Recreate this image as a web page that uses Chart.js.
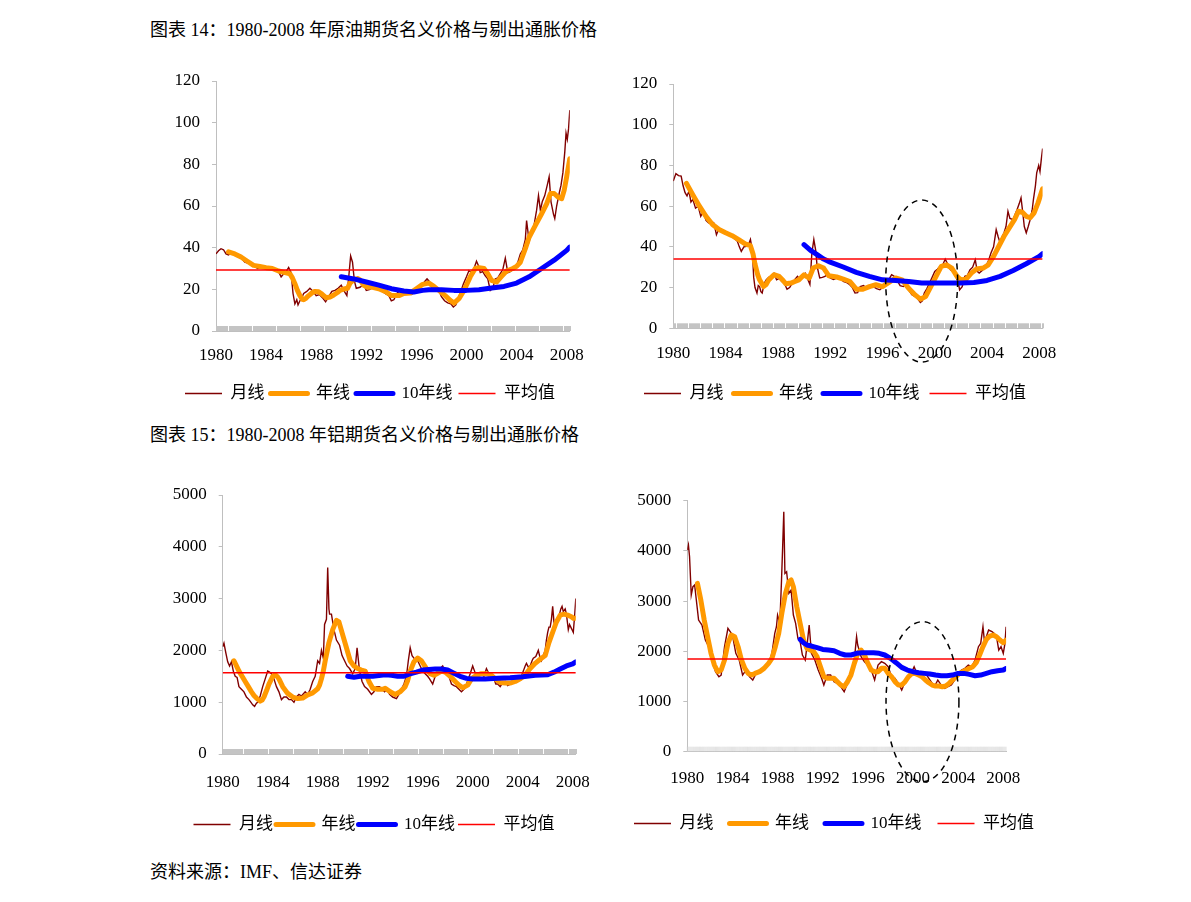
<!DOCTYPE html>
<html><head><meta charset="utf-8">
<script src="https://cdn.jsdelivr.net/npm/chart.js@4.4.1/dist/chart.umd.min.js"></script>
<style>
body{margin:0;background:#fff;width:1191px;height:902px;position:relative;overflow:hidden;font-family:"Liberation Serif","Noto Sans CJK SC",serif;}
.t{position:absolute;left:150px;font-size:18px;line-height:22px;color:#000;white-space:nowrap;}
canvas{position:absolute;}
</style></head><body>
<div class="t" style="top:19px">图表 14：1980-2008 年原油期货名义价格与剔出通胀价格</div>
<div class="t" style="top:424px">图表 15：1980-2008 年铝期货名义价格与剔出通胀价格</div>
<div class="t" style="top:861px">资料来源：IMF、信达证券</div>
<canvas id="c1"></canvas>
<canvas id="c2"></canvas>
<canvas id="c3"></canvas>
<canvas id="c4"></canvas>
<script>
// ---------- data ----------
const yearLabels = [1980,1984,1988,1992,1996,2000,2004,2008];
const seriesNames = ['月线','年线','10年线','平均值'];
const xStart = 1980, xEnd = 2008.25;

// Chart 1: crude oil nominal
const oilNomMonthly = [[1980.0,37],[1980.2,38.5],[1980.4,39.5],[1980.6,39],[1980.8,37],[1981.0,36.5],[1981.2,37.5],[1981.5,36.5],[1981.8,35.5],[1982.0,35],[1982.3,33],[1982.6,32.5],[1982.9,32],[1983.1,31.5],[1983.3,30],[1983.6,30.5],[1983.9,30],[1984.2,30.5],[1984.5,30],[1984.8,29],[1985.0,28.5],[1985.2,26],[1985.4,27.5],[1985.6,28.5],[1985.8,30.5],[1986.0,28],[1986.15,18],[1986.3,13],[1986.45,15],[1986.55,12.5],[1986.7,14.5],[1986.85,16],[1987.0,18],[1987.25,19],[1987.5,20.5],[1987.75,19],[1988.0,17],[1988.25,17.5],[1988.5,16],[1988.75,14],[1989.0,16.5],[1989.25,19],[1989.5,19.5],[1989.75,20.5],[1990.0,22],[1990.2,19.5],[1990.45,17],[1990.6,26],[1990.75,36],[1990.9,33],[1991.05,24],[1991.2,20.5],[1991.5,21],[1991.8,22.5],[1992.0,19.5],[1992.3,20],[1992.6,21.5],[1992.9,20],[1993.2,19.5],[1993.5,18],[1993.8,17],[1994.0,14.5],[1994.2,15],[1994.5,18.5],[1994.8,17.5],[1995.0,18],[1995.3,18.5],[1995.6,17.5],[1995.9,18.5],[1996.2,20.5],[1996.45,22],[1996.7,24],[1996.85,25],[1997.0,24],[1997.25,21],[1997.5,19.5],[1997.75,20],[1998.0,16.5],[1998.25,14.5],[1998.5,13.5],[1998.75,13],[1998.95,11.5],[1999.15,12.5],[1999.35,16],[1999.55,19],[1999.75,22.5],[2000.0,26],[2000.2,29],[2000.4,28],[2000.6,30],[2000.8,33.5],[2000.95,31.5],[2001.1,28],[2001.3,28.5],[2001.5,26.5],[2001.7,25],[2001.9,19.5],[2002.1,20.5],[2002.3,25],[2002.5,25.5],[2002.7,27.5],[2002.9,29.5],[2003.1,35],[2003.3,28],[2003.5,28.5],[2003.7,29.5],[2003.9,30.5],[2004.1,33],[2004.3,37],[2004.5,39],[2004.7,44],[2004.8,53],[2005.0,43],[2005.2,47],[2005.4,51],[2005.6,58],[2005.75,65],[2005.9,58],[2006.05,62],[2006.25,65],[2006.45,70],[2006.6,74],[2006.75,62],[2006.95,56],[2007.05,54],[2007.2,60],[2007.4,66],[2007.55,70],[2007.7,76],[2007.85,86],[2007.95,95],[2008.05,92],[2008.15,97],[2008.25,106]];
const oilNomYearly = [[1981.0,38],[1981.5,37],[1982.0,35.5],[1982.5,33.5],[1983.0,31.5],[1983.5,31],[1984.0,30.4],[1984.5,30],[1985.0,28.8],[1985.5,28],[1985.9,27.5],[1986.1,25.5],[1986.3,22.7],[1986.5,19.5],[1986.7,17],[1986.9,15.2],[1987.0,15],[1987.2,15.8],[1987.4,17],[1987.7,18.5],[1987.9,19],[1988.2,18.8],[1988.4,18],[1988.6,17],[1988.8,16],[1989.1,16.3],[1989.4,17.3],[1989.7,18.5],[1989.9,19.5],[1990.3,20.3],[1990.5,20.5],[1990.7,23],[1991.0,24.6],[1991.3,25.2],[1991.5,24.5],[1991.8,21.9],[1992.1,21],[1992.5,21],[1993.0,20.3],[1993.6,18.7],[1994.0,17],[1994.6,17],[1995.0,18],[1995.5,18.2],[1996.0,20.3],[1996.5,22.4],[1997.0,23],[1997.4,21.4],[1997.8,19.5],[1998.3,17],[1998.7,14.7],[1999.0,13.4],[1999.4,15.5],[1999.8,19.5],[2000.3,26],[2000.7,30],[2001.0,30.4],[2001.4,30],[2001.7,27.5],[2002.0,24.3],[2002.4,23.5],[2002.8,26.2],[2003.2,28.8],[2003.7,30],[2004.0,31],[2004.3,33],[2004.7,39.5],[2005.0,45],[2005.5,50.7],[2006.0,56.3],[2006.4,61],[2006.7,66],[2007.0,66],[2007.3,64.3],[2007.6,63.5],[2007.8,67.5],[2008.0,74],[2008.25,82.7]];
const oilNomTenYear = [[1990.0,26],[1991.0,25],[1992.0,23.5],[1993.0,22],[1994.0,20.3],[1995.0,19.2],[1995.8,18.7],[1996.5,19.5],[1997.0,19.8],[1998.0,19.8],[1999.0,19.5],[2000.0,19.5],[2001.0,19.8],[2002.0,20.6],[2003.0,21.4],[2004.0,23],[2005.0,26],[2006.0,30],[2007.0,34],[2008.0,38.7],[2008.25,40.3]];
const oilNomMean = 29.3;

// Chart 2: crude oil inflation-adjusted
const oilRealMonthly = [[1980.0,72.3],[1980.2,76],[1980.4,75],[1980.6,74.8],[1980.75,70],[1980.9,66.6],[1981.05,65],[1981.2,67.4],[1981.35,62],[1981.5,63.3],[1981.7,59],[1981.9,60],[1982.1,55],[1982.3,57.5],[1982.5,53],[1982.7,51.8],[1982.9,52.5],[1983.1,51.8],[1983.3,46],[1983.5,49],[1983.7,48.5],[1984.0,46.9],[1984.25,46],[1984.5,45.2],[1984.7,44],[1984.9,42.7],[1985.05,40],[1985.2,37.8],[1985.4,40],[1985.6,40.3],[1985.75,41],[1985.9,43.6],[1986.05,38],[1986.15,25],[1986.25,20],[1986.4,17.3],[1986.5,21],[1986.6,20.5],[1986.7,18],[1986.8,17.3],[1986.95,22],[1987.1,23.8],[1987.3,25],[1987.5,25.8],[1987.7,27],[1987.9,23.8],[1988.1,24.5],[1988.3,23],[1988.5,22],[1988.7,19.2],[1988.9,20],[1989.1,22.2],[1989.3,24],[1989.5,25.5],[1989.7,24],[1989.9,25.5],[1990.1,27],[1990.3,23.8],[1990.45,21.5],[1990.6,37],[1990.75,43.6],[1990.9,38],[1991.0,30.4],[1991.2,24.7],[1991.4,25],[1991.6,25.5],[1991.8,26.5],[1992.0,24.7],[1992.25,24],[1992.5,24.7],[1992.75,25],[1993.0,23],[1993.25,22.5],[1993.5,21.4],[1993.7,20],[1993.9,17.3],[1994.1,17.5],[1994.3,20.5],[1994.55,21],[1994.8,19.7],[1995.05,20],[1995.3,20.5],[1995.55,19.5],[1995.8,18.9],[1996.0,20],[1996.2,22.2],[1996.45,23.5],[1996.7,26.3],[1996.9,25.5],[1997.1,23.8],[1997.35,21],[1997.6,20.5],[1997.8,21.5],[1998.0,18.9],[1998.25,16.5],[1998.5,15.6],[1998.7,14.5],[1998.9,12.7],[1999.05,13.5],[1999.2,17.3],[1999.4,19.5],[1999.6,22.2],[1999.8,25],[2000.0,27.9],[2000.2,29],[2000.4,30.4],[2000.6,31],[2000.8,34],[2000.95,32],[2001.2,28.8],[2001.4,28],[2001.6,25.5],[2001.8,22.5],[2001.9,18.9],[2002.1,20.5],[2002.3,25.5],[2002.5,26],[2002.7,28.8],[2002.9,30],[2003.1,33.7],[2003.25,28],[2003.4,27.1],[2003.65,28.5],[2003.9,30.4],[2004.1,33],[2004.3,37],[2004.5,40],[2004.7,48.5],[2004.85,45],[2005.0,41.9],[2005.15,45],[2005.3,46.9],[2005.45,50],[2005.6,57.5],[2005.75,54],[2006.0,53.4],[2006.15,56],[2006.3,58.4],[2006.45,61],[2006.6,64.1],[2006.75,56],[2006.85,50],[2007.0,46.9],[2007.15,50],[2007.3,53.4],[2007.45,58],[2007.55,63.3],[2007.7,70],[2007.8,76.4],[2007.95,80],[2008.05,77],[2008.15,83],[2008.25,88.3]];
const oilRealYearly = [[1981.0,71.2],[1981.5,65.5],[1982.0,60],[1982.5,55],[1983.0,51],[1983.5,48.5],[1984.0,46.9],[1984.5,45.5],[1985.0,43.6],[1985.5,41.5],[1985.9,40.6],[1986.1,36.5],[1986.25,31.5],[1986.45,26.5],[1986.6,23.8],[1986.9,20.5],[1987.1,21.5],[1987.3,23.8],[1987.7,26.3],[1988.1,25.5],[1988.4,23.5],[1988.6,21.9],[1989.0,22.2],[1989.3,23],[1989.6,23.8],[1990.0,26.3],[1990.4,24.7],[1990.7,29.6],[1991.1,30.7],[1991.5,29.6],[1991.9,25.8],[1992.5,25.2],[1993.0,24.2],[1993.5,23],[1994.0,19.2],[1994.5,19.2],[1995.0,20.5],[1995.5,21.4],[1996.0,20.5],[1996.5,22.5],[1997.0,24.7],[1997.5,23.8],[1998.0,19.7],[1998.5,16.4],[1998.9,14.3],[1999.3,15.6],[1999.7,20.5],[2000.1,25.5],[2000.5,30.4],[2000.9,31.2],[2001.3,29.6],[2001.7,25.5],[2002.0,23.8],[2002.4,24.2],[2002.8,27.1],[2003.2,29.1],[2003.7,29.6],[2004.1,31.2],[2004.5,35.3],[2004.9,40.3],[2005.3,45.2],[2005.7,49.3],[2006.1,53.4],[2006.4,57.5],[2006.7,57],[2007.0,55],[2007.3,54.3],[2007.6,56.7],[2007.9,61.6],[2008.25,68.5]];
const oilRealTenYear = [[1990.0,41.1],[1990.5,38.3],[1991.0,36.2],[1991.5,34],[1992.0,32.5],[1993.0,30.1],[1994.0,27.5],[1995.0,25.5],[1996.0,23.8],[1997.0,23.5],[1998.0,23],[1999.0,22.2],[2000.0,22.2],[2001.0,22.2],[2002.0,22.2],[2003.0,22.5],[2004.0,23.5],[2005.0,25.5],[2006.0,28.4],[2007.0,31.7],[2008.0,35.3],[2008.25,36.7]];
const oilRealMean = 34;

// Chart 3: aluminium nominal
const alNomMonthly = [[1980.0,2072],[1980.1,2140],[1980.25,1950],[1980.4,1780],[1980.55,1700],[1980.7,1780],[1980.85,1600],[1981.0,1500],[1981.15,1480],[1981.3,1300],[1981.5,1250],[1981.7,1200],[1981.9,1100],[1982.1,1050],[1982.25,1000],[1982.4,950],[1982.55,920],[1982.7,980],[1982.8,1000],[1983.0,1120],[1983.2,1300],[1983.4,1450],[1983.6,1600],[1983.75,1580],[1983.9,1550],[1984.1,1450],[1984.3,1300],[1984.5,1200],[1984.7,1050],[1984.9,1100],[1985.1,1100],[1985.3,1050],[1985.5,1050],[1985.7,1000],[1985.9,1100],[1986.1,1150],[1986.3,1120],[1986.6,1200],[1986.8,1150],[1987.0,1250],[1987.2,1400],[1987.4,1500],[1987.6,1800],[1987.75,1750],[1987.9,2000],[1988.05,1850],[1988.15,2500],[1988.3,2600],[1988.4,3600],[1988.5,2800],[1988.55,2700],[1988.7,2700],[1988.9,2400],[1989.1,2200],[1989.35,2100],[1989.55,1900],[1989.75,1800],[1989.95,1700],[1990.15,1650],[1990.4,1550],[1990.6,1650],[1990.75,2050],[1990.95,1600],[1991.15,1400],[1991.35,1300],[1991.6,1250],[1991.9,1150],[1992.1,1200],[1992.3,1300],[1992.55,1300],[1992.75,1250],[1992.95,1200],[1993.15,1250],[1993.35,1150],[1993.6,1100],[1993.9,1070],[1994.1,1150],[1994.3,1250],[1994.5,1350],[1994.7,1500],[1994.85,1800],[1995.0,2050],[1995.15,1900],[1995.3,1850],[1995.45,1800],[1995.6,1800],[1995.8,1700],[1996.0,1600],[1996.2,1550],[1996.4,1500],[1996.55,1450],[1996.8,1350],[1997.0,1500],[1997.2,1600],[1997.4,1650],[1997.6,1700],[1997.75,1620],[1997.9,1600],[1998.1,1500],[1998.3,1350],[1998.5,1320],[1998.7,1300],[1998.9,1250],[1999.1,1200],[1999.3,1250],[1999.5,1350],[1999.65,1450],[1999.8,1550],[2000.0,1700],[2000.15,1600],[2000.3,1500],[2000.5,1550],[2000.7,1550],[2000.9,1500],[2001.1,1650],[2001.3,1550],[2001.5,1500],[2001.7,1450],[2001.85,1350],[2002.0,1350],[2002.2,1300],[2002.4,1380],[2002.6,1400],[2002.8,1320],[2003.0,1350],[2003.2,1380],[2003.4,1400],[2003.6,1420],[2003.8,1450],[2004.05,1600],[2004.2,1700],[2004.3,1750],[2004.45,1680],[2004.6,1700],[2004.75,1800],[2004.85,1850],[2005.05,1880],[2005.25,2000],[2005.4,1850],[2005.5,1800],[2005.65,1900],[2005.8,2000],[2005.9,2200],[2006.0,2350],[2006.1,2450],[2006.2,2450],[2006.3,2600],[2006.4,2850],[2006.5,2550],[2006.6,2450],[2006.7,2500],[2006.8,2550],[2006.95,2700],[2007.05,2800],[2007.15,2850],[2007.25,2750],[2007.4,2800],[2007.5,2700],[2007.6,2500],[2007.65,2400],[2007.75,2500],[2007.85,2450],[2007.95,2400],[2008.05,2350],[2008.15,2650],[2008.25,3000]];
const alNomYearly = [[1980.9,1800],[1981.1,1700],[1981.3,1600],[1981.55,1500],[1981.8,1400],[1982.05,1300],[1982.3,1200],[1982.5,1130],[1982.7,1080],[1983.0,1020],[1983.15,1040],[1983.3,1100],[1983.5,1220],[1983.7,1350],[1984.0,1500],[1984.2,1530],[1984.35,1500],[1984.5,1450],[1984.8,1300],[1985.2,1170],[1985.6,1100],[1986.0,1070],[1986.4,1080],[1986.8,1140],[1987.2,1180],[1987.6,1260],[1987.75,1330],[1987.9,1450],[1988.05,1600],[1988.2,1800],[1988.5,2150],[1988.8,2400],[1989.1,2580],[1989.3,2550],[1989.6,2300],[1989.9,2050],[1990.2,1800],[1990.5,1700],[1990.8,1650],[1991.1,1620],[1991.4,1600],[1991.55,1500],[1991.7,1400],[1992.0,1270],[1992.4,1250],[1992.8,1250],[1993.0,1270],[1993.4,1200],[1993.8,1150],[1994.2,1200],[1994.6,1300],[1994.8,1420],[1995.0,1600],[1995.3,1780],[1995.6,1850],[1995.9,1800],[1996.3,1650],[1996.6,1550],[1996.9,1520],[1997.2,1560],[1997.5,1600],[1997.8,1580],[1998.2,1500],[1998.6,1400],[1998.9,1330],[1999.2,1280],[1999.6,1330],[1999.9,1450],[2000.3,1520],[2000.7,1550],[2001.1,1550],[2001.5,1520],[2001.8,1450],[2002.2,1380],[2002.6,1370],[2003.0,1370],[2003.4,1400],[2003.8,1450],[2004.2,1530],[2004.6,1650],[2005.0,1750],[2005.4,1830],[2005.8,1900],[2006.1,2150],[2006.4,2350],[2006.7,2550],[2007.0,2680],[2007.3,2700],[2007.6,2680],[2007.9,2650],[2008.05,2620],[2008.25,2620]];
const alNomTenYear = [[1990.0,1500],[1990.5,1480],[1991.0,1500],[1992.0,1500],[1993.0,1530],[1993.5,1520],[1994.0,1500],[1994.5,1500],[1995.0,1550],[1995.5,1580],[1996.0,1620],[1996.5,1630],[1997.0,1640],[1997.5,1640],[1998.0,1620],[1998.5,1560],[1999.0,1500],[1999.5,1460],[2000.0,1450],[2001.0,1450],[2002.0,1460],[2003.0,1470],[2004.0,1490],[2005.0,1520],[2006.0,1530],[2006.5,1580],[2007.0,1640],[2007.5,1700],[2008.0,1740],[2008.25,1780]];
const alNomMean = 1570;

// Chart 4: aluminium inflation-adjusted
const alRealMonthly = [[1980.0,4017],[1980.1,4117],[1980.2,3884],[1980.35,3121],[1980.5,3287],[1980.65,3320],[1980.8,3021],[1981.0,2623],[1981.3,2523],[1981.6,2224],[1981.9,2092],[1982.2,1826],[1982.5,1594],[1982.8,1494],[1983.0,1527],[1983.3,2092],[1983.6,2457],[1983.8,2390],[1984.0,2324],[1984.3,1959],[1984.6,1826],[1984.9,1527],[1985.2,1627],[1985.5,1494],[1985.8,1428],[1986.1,1560],[1986.4,1627],[1986.7,1660],[1987.0,1693],[1987.3,1826],[1987.5,1959],[1987.75,2357],[1987.9,2490],[1988.0,2722],[1988.2,2556],[1988.35,3420],[1988.45,4084],[1988.55,4781],[1988.65,3552],[1988.8,3586],[1989.0,3154],[1989.2,3220],[1989.4,2722],[1989.6,2556],[1989.8,2258],[1990.0,2191],[1990.2,1926],[1990.45,1826],[1990.6,2092],[1990.8,2523],[1991.0,1959],[1991.3,1826],[1991.6,1627],[1991.9,1461],[1992.1,1328],[1992.4,1527],[1992.7,1527],[1993.0,1394],[1993.3,1361],[1993.6,1295],[1993.9,1195],[1994.2,1361],[1994.5,1560],[1994.8,1826],[1995.0,2291],[1995.1,2125],[1995.4,1892],[1995.7,1793],[1996.0,1726],[1996.3,1627],[1996.6,1428],[1996.9,1726],[1997.2,1793],[1997.5,1760],[1997.8,1693],[1998.1,1494],[1998.4,1461],[1998.7,1361],[1999.0,1228],[1999.3,1394],[1999.6,1494],[1999.9,1594],[2000.1,1693],[2000.4,1527],[2000.7,1594],[2001.0,1594],[2001.3,1494],[2001.6,1394],[2001.9,1295],[2002.2,1428],[2002.5,1328],[2002.8,1262],[2003.1,1295],[2003.4,1328],[2003.7,1428],[2004.0,1560],[2004.3,1627],[2004.6,1660],[2004.9,1726],[2005.2,1693],[2005.5,1826],[2005.8,2092],[2006.0,2158],[2006.2,2490],[2006.35,2158],[2006.5,2291],[2006.7,2424],[2007.0,2390],[2007.2,2357],[2007.4,2291],[2007.6,2025],[2007.8,2092],[2008.0,1959],[2008.15,2158],[2008.25,2490]];
const alRealYearly = [[1980.9,3353],[1981.2,3021],[1981.5,2623],[1981.8,2291],[1982.1,1959],[1982.4,1726],[1982.7,1594],[1983.0,1627],[1983.3,1826],[1983.6,2158],[1983.9,2324],[1984.2,2291],[1984.5,2092],[1984.8,1826],[1985.1,1660],[1985.4,1560],[1985.7,1527],[1986.0,1560],[1986.4,1594],[1986.8,1660],[1987.2,1760],[1987.5,1859],[1987.8,2092],[1988.1,2357],[1988.4,2789],[1988.7,3154],[1989.0,3386],[1989.2,3420],[1989.4,3287],[1989.7,2888],[1990.0,2556],[1990.3,2224],[1990.6,2058],[1990.9,2025],[1991.2,1992],[1991.5,1892],[1991.8,1693],[1992.1,1494],[1992.4,1461],[1992.7,1461],[1993.0,1461],[1993.3,1394],[1993.6,1328],[1993.9,1295],[1994.2,1394],[1994.5,1527],[1994.8,1760],[1995.1,1959],[1995.4,2025],[1995.7,1926],[1996.0,1760],[1996.3,1627],[1996.6,1594],[1996.9,1594],[1997.2,1660],[1997.5,1660],[1997.8,1560],[1998.1,1494],[1998.4,1394],[1998.7,1328],[1999.0,1328],[1999.3,1394],[1999.6,1494],[1999.9,1560],[2000.2,1560],[2000.5,1527],[2000.8,1494],[2001.1,1428],[2001.4,1374],[2001.7,1328],[2002.0,1308],[2002.3,1308],[2002.6,1295],[2002.9,1308],[2003.2,1361],[2003.5,1428],[2003.8,1494],[2004.1,1560],[2004.4,1594],[2004.7,1627],[2005.0,1660],[2005.3,1693],[2005.6,1773],[2005.9,1926],[2006.2,2092],[2006.5,2238],[2006.8,2304],[2007.1,2324],[2007.4,2291],[2007.7,2224],[2008.0,2171],[2008.25,2224]];
const alRealTenYear = [[1990.0,2238],[1990.3,2171],[1990.6,2125],[1991.0,2105],[1991.5,2072],[1992.0,2038],[1992.5,2025],[1993.0,2012],[1993.5,1959],[1994.0,1926],[1994.5,1926],[1995.0,1959],[1995.5,1972],[1996.0,1972],[1996.5,1972],[1997.0,1959],[1997.5,1926],[1998.0,1859],[1998.5,1773],[1999.0,1680],[1999.5,1627],[2000.0,1594],[2000.5,1574],[2001.0,1560],[2001.5,1547],[2002.0,1527],[2002.5,1514],[2003.0,1514],[2003.5,1527],[2004.0,1560],[2004.5,1560],[2005.0,1540],[2005.5,1514],[2006.0,1527],[2006.5,1560],[2007.0,1594],[2007.5,1614],[2008.0,1627],[2008.25,1660]];
const alRealMean = 1846;

// ---------- rendering ----------
const FONT = '"Liberation Serif", "Noto Sans CJK SC", serif';
const AXIS = '#bfbfbf';

const monthHatch = {
  id: 'monthHatch',
  beforeDatasetsDraw(chart) {
    const xs = chart.scales.x, ca = chart.chartArea, ctx = chart.ctx;
    const step = Math.abs(xs.getPixelForValue(xStart + 1 / 12) - xs.getPixelForValue(xStart));
    ctx.save();
    ctx.strokeStyle = step < 1.02 ? '#d4d4d4' : '#c4c4c4';
    ctx.lineWidth = step < 1.02 ? 0.6 : 1;
    ctx.beginPath();
    for (let m = 0; xStart + m / 12 <= xs.max + 1e-9; m++) {
      const px = xs.getPixelForValue(xStart + m / 12);
      const x = step < 1.02 ? px : Math.round(px) + 0.5;
      ctx.moveTo(x, ca.bottom - 5);
      ctx.lineTo(x, ca.bottom);
    }
    ctx.stroke();
    ctx.restore();
  }
};

const ellipseMark = {
  id: 'ellipseMark',
  afterDatasetsDraw(chart, args, opts) {
    if (!opts || opts.cx === undefined) return;
    const xs = chart.scales.x, ys = chart.scales.y, ctx = chart.ctx;
    const cx = xs.getPixelForValue(opts.cx), cy = ys.getPixelForValue(opts.cy);
    const rx = Math.abs(xs.getPixelForValue(opts.cx + opts.rx) - cx);
    const ry = Math.abs(ys.getPixelForValue(opts.cy + opts.ry) - cy);
    ctx.save();
    ctx.setLineDash([6, 5]);
    ctx.strokeStyle = '#000';
    ctx.lineWidth = 1.5;
    ctx.beginPath();
    ctx.ellipse(cx, cy, rx, ry, 0, 0, Math.PI * 2);
    ctx.stroke();
    ctx.restore();
  }
};

function toPts(arr) { return arr.map(p => ({x: p[0], y: p[1]})); }

function build(id, spec) {
  const W = 470;
  const Cx = Math.round(spec.legendCenter - W / 2);
  const Cy = spec.top;
  const H = Math.round(spec.legendY + 18.5 - Cy);
  const legendH = 17 + spec.legendGap + 10;
  const xAxisH = H - legendH - (spec.plot.b - Cy);
  const yW = spec.plot.l - Cx;
  const extraR = Cx + W - spec.plot.r;
  const cv = document.getElementById(id);
  cv.width = W; cv.height = H;
  cv.style.left = Cx + 'px'; cv.style.top = Cy + 'px';

  const plugins = [monthHatch];
  if (spec.ellipse) plugins.push(ellipseMark);

  new Chart(cv, {
    type: 'line',
    data: {
      datasets: [
        {label: seriesNames[0], data: toPts(spec.monthly), borderColor: '#800000', backgroundColor: '#800000', borderWidth: 1.4, pointRadius: 0, order: 4},
        {label: seriesNames[1], data: toPts(spec.yearly), borderColor: '#FF9900', backgroundColor: '#FF9900', borderWidth: 5, borderCapStyle: 'round', borderJoinStyle: 'round', pointRadius: 0, order: 3},
        {label: seriesNames[2], data: toPts(spec.ten), borderColor: '#0000FF', backgroundColor: '#0000FF', borderWidth: 5, borderCapStyle: 'round', borderJoinStyle: 'round', pointRadius: 0, order: 2},
        {label: seriesNames[3], data: [{x: xStart, y: spec.mean}, {x: xEnd, y: spec.mean}], borderColor: '#FF0000', backgroundColor: '#FF0000', borderWidth: 1.5, pointRadius: 0, order: 1}
      ]
    },
    options: {
      responsive: false, animation: false, devicePixelRatio: 1,
      events: [],
      layout: {padding: {left: 0, right: 0, top: spec.plot.t - Cy, bottom: 0}},
      plugins: {
        legend: {
          position: 'bottom',
          labels: {
            boxWidth: 37, boxHeight: 0, padding: spec.legendGap, color: '#000',
            font: {family: FONT, size: 17},
            sort: (a, b) => a.datasetIndex - b.datasetIndex
          }
        },
        tooltip: {enabled: false},
        ellipseMark: spec.ellipse || {}
      },
      scales: {
        x: {
          type: 'linear', min: xStart, max: xEnd,
          afterBuildTicks: s => { s.ticks = yearLabels.map(v => ({value: v})); },
          afterFit: s => { s.height = xAxisH; s.paddingLeft = 0; s.paddingRight = extraR; },
          grid: {display: false, drawTicks: false},
          border: {display: true, color: AXIS, width: 1},
          ticks: {padding: spec.xPad, color: '#000', font: {family: FONT, size: 17}, maxRotation: 0, minRotation: 0, autoSkip: false, callback: v => String(v)}
        },
        y: {
          min: 0, max: spec.yMax,
          afterFit: s => { s.width = yW; s.paddingTop = 0; s.paddingBottom = 0; },
          ticks: {stepSize: spec.yStep, padding: 12, color: '#000', font: {family: FONT, size: 17}, callback: v => String(v)},
          grid: {drawOnChartArea: false, drawTicks: true, tickLength: 4, color: AXIS},
          border: {display: true, color: AXIS, width: 1}
        }
      }
    },
    plugins: plugins
  });
}

build('c1', {plot: {l: 216, r: 569.8, t: 81, b: 331}, legendCenter: 370, legendY: 393, top: 60, xPad: 14.8, legendGap: 6,
  yMax: 120, yStep: 20, monthly: oilNomMonthly, yearly: oilNomYearly, ten: oilNomTenYear, mean: oilNomMean});
build('c2', {plot: {l: 673.3, r: 1042.6, t: 84, b: 328.3}, legendCenter: 835, legendY: 393, top: 60, xPad: 15.5, legendGap: 10,
  yMax: 120, yStep: 20, monthly: oilRealMonthly, yearly: oilRealYearly, ten: oilRealTenYear, mean: oilRealMean,
  ellipse: {cx: 1999.0, cy: 23.2, rx: 2.75, ry: 39.8}});
build('c3', {plot: {l: 222.7, r: 575.8, t: 495, b: 754}, legendCenter: 374, legendY: 824, top: 470, xPad: 18.5, legendGap: 3,
  yMax: 5000, yStep: 1000, monthly: alNomMonthly, yearly: alNomYearly, ten: alNomTenYear, mean: alNomMean});
build('c4', {plot: {l: 687.3, r: 1006.1, t: 500.7, b: 751.7}, legendCenter: 833.5, legendY: 823, top: 470, xPad: 17.1, legendGap: 16,
  yMax: 5000, yStep: 1000, monthly: alRealMonthly, yearly: alRealYearly, ten: alRealTenYear, mean: alRealMean,
  ellipse: {cx: 2000.84, cy: 996, rx: 3.23, ry: 1594}});
</script>
</body></html>
